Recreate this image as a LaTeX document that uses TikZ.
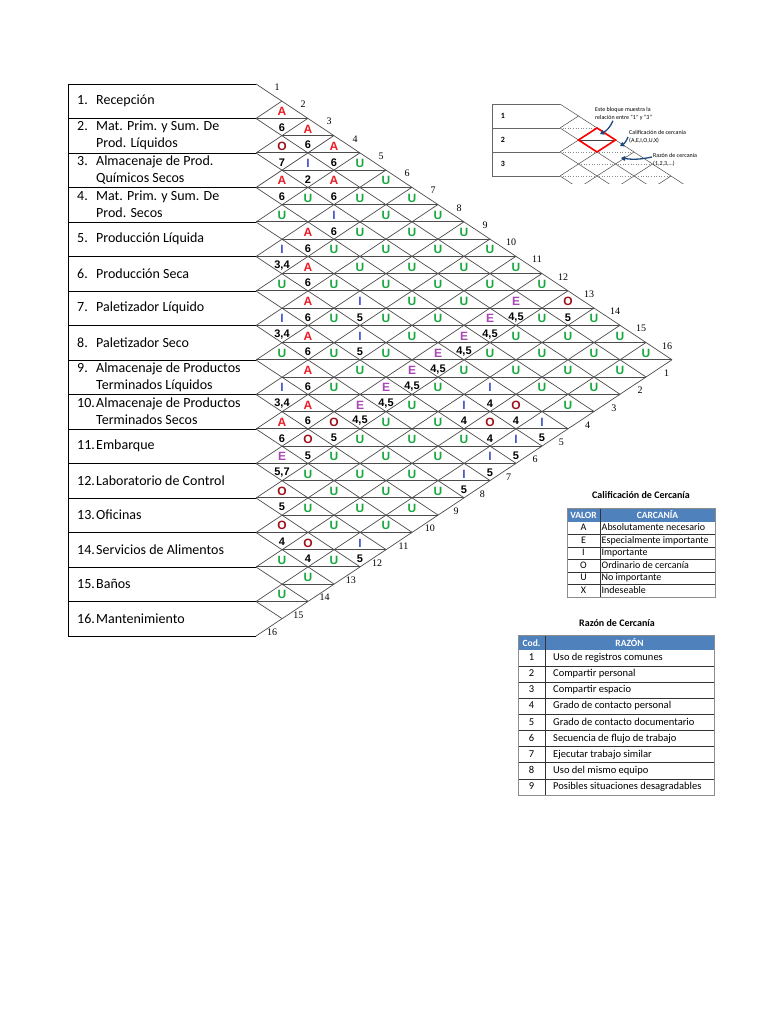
\documentclass[tikz,border=0pt]{standalone}
\usepackage{fontspec}
\setmainfont{Carlito}
\newfontfamily\relfont{Liberation Sans}
\newfontfamily\tickfont{Liberation Serif}
\usetikzlibrary{arrows.meta}
\definecolor{rateA}{RGB}{237,28,36}
\definecolor{rateE}{RGB}{168,72,180}
\definecolor{rateI}{RGB}{72,84,200}
\definecolor{rateO}{RGB}{160,16,24}
\definecolor{rateU}{RGB}{24,168,64}
\definecolor{headblue}{RGB}{79,129,189}
\definecolor{notearrow}{RGB}{31,73,125}
\newcommand{\dnum}[1]{\makebox[19pt][l]{#1}}
\newcommand{\dgap}{\hspace*{19pt}}
\tikzset{
    rowline/.style={black, line width=0.9pt},
    gridline/.style={black!70, line width=0.7pt},
    midline/.style={black!70, line width=0.7pt},
    insetmid/.style={black!45, line width=0.6pt, dotted},
    dept/.style={anchor=west, inner sep=0pt, align=left, font=\fontsize{14}{17}\selectfont},
    ratelet/.style={inner sep=0pt, font=\relfont\bfseries\fontsize{12}{12}\selectfont},
    reasonnum/.style={inner sep=0pt, font=\relfont\bfseries\fontsize{11}{11}\selectfont},
    ticklab/.style={inner sep=0pt, font=\tickfont\fontsize{10}{10}\selectfont},
    insetnum/.style={inner sep=0pt, font=\bfseries\fontsize{8}{8}\selectfont},
    notetext/.style={anchor=west, inner sep=0pt, align=left, font=\fontsize{6}{8}\selectfont},
    notearr/.style={notearrow, line width=1.3pt, -{Triangle[length=4pt,width=5pt]}},
    tabtitle/.style={inner sep=0pt, font=\bfseries\fontsize{10}{10}\selectfont},
    tabhead/.style={inner sep=0pt, text=white, text height=7pt, text depth=0pt,
        font=\bfseries\fontsize{9.5}{9.5}\selectfont},
    tabtext/.style={inner sep=0pt, text height=7pt, text depth=2pt, font=\fontsize{10}{10}\selectfont},
    reasontext/.style={tabtext, font=\fontsize{10.5}{10.5}\selectfont},
    tabrule/.style={black!80, line width=0.6pt},
    tabframe/.style={black!45, line width=0.8pt}
}
\begin{document}
\begin{tikzpicture}[x=1pt, y=-1pt]
  \useasboundingbox (0,0) rectangle (768,1024);
  % department rows
  \draw[rowline] (68,84) -- (68,636);
  \foreach \k in {0,...,16}
    \draw[rowline] (68,{84+34.5*\k}) -- (256,{84+34.5*\k});
  \node[dept] (d1) at (77,101) {\dnum{1.}Recepción};
  \node[dept] (d2) at (77,135.5) {\dnum{2.}Mat. Prim. y Sum. De\\\dgap Prod. Líquidos};
  \node[dept] (d3) at (77,170) {\dnum{3.}Almacenaje de Prod.\\\dgap Químicos Secos};
  \node[dept] (d4) at (77,204.5) {\dnum{4.}Mat. Prim. y Sum. De\\\dgap Prod. Secos};
  \node[dept] (d5) at (77,239) {\dnum{5.}Producción Líquida};
  \node[dept] (d6) at (77,273.5) {\dnum{6.}Producción Seca};
  \node[dept] (d7) at (77,308) {\dnum{7.}Paletizador Líquido};
  \node[dept] (d8) at (77,342.5) {\dnum{8.}Paletizador Seco};
  \node[dept] (d9) at (77,377) {\dnum{9.}Almacenaje de Productos\\\dgap Terminados Líquidos};
  \node[dept] (d10) at (77,411.5) {\dnum{10.}Almacenaje de Productos\\\dgap Terminados Secos};
  \node[dept] (d11) at (77,446) {\dnum{11.}Embarque};
  \node[dept] (d12) at (77,480.5) {\dnum{12.}Laboratorio de Control};
  \node[dept] (d13) at (77,515) {\dnum{13.}Oficinas};
  \node[dept] (d14) at (77,549.5) {\dnum{14.}Servicios de Alimentos};
  \node[dept] (d15) at (77,584) {\dnum{15.}Baños};
  \node[dept] (d16) at (77,618.5) {\dnum{16.}Mantenimiento};
  % diamond grid
  \foreach \k in {1,...,16}
    \draw[gridline] (256,{49.5+34.5*\k}) -- ({698-26*\k},{342.5+17.25*\k});
  \foreach \k in {2,...,17}
    \draw[gridline] (256,{49.5+34.5*\k}) -- ({230+26*\k},{66.5+17.25*\k});
  \foreach \s in {3,...,31}{
    \pgfmathsetmacro\xl{256+26*mod(\s+1,2)}
    \pgfmathsetmacro\xr{282+26*min(\s-2,32-\s)}
    \draw[midline] (\xl,{66.5+17.25*\s}) -- (\xr,{66.5+17.25*\s});
  }
  \foreach \k in {1,...,16}{
    \node[ticklab] (top\k) at ({277+26*(\k-1)},{87+17.25*(\k-1)}) {\k};
    \node[ticklab] (bot\k) at ({272+26.3*(16-\k)},{632-17.25*(16-\k)}) {\k};
  }
  % closeness ratings and reasons
  \foreach \i/\j/\c/\r [count=\n] in {
      1/2/A/6, 1/3/A/6, 1/4/A/6, 1/5/U/{}, 1/6/U/{}, 1/7/U/{}, 1/8/U/{}, 1/9/U/{},
      1/10/U/{}, 1/11/U/{}, 1/12/U/{}, 1/13/O/5, 1/14/U/{}, 1/15/U/{}, 1/16/U/{},
      2/3/O/7, 2/4/I/2, 2/5/A/6, 2/6/U/{}, 2/7/U/{}, 2/8/U/{}, 2/9/U/{}, 2/10/U/{},
      2/11/U/{}, 2/12/E/{4,5}, 2/13/U/{}, 2/14/U/{}, 2/15/U/{}, 2/16/U/{},
      3/4/A/6, 3/5/U/{}, 3/6/I/6, 3/7/U/{}, 3/8/U/{}, 3/9/U/{}, 3/10/U/{}, 3/11/U/{},
      3/12/E/{4,5}, 3/13/U/{}, 3/14/U/{}, 3/15/U/{}, 3/16/U/{},
      4/5/U/{}, 4/6/A/6, 4/7/U/{}, 4/8/U/{}, 4/9/U/{}, 4/10/U/{}, 4/11/U/{},
      4/12/E/{4,5}, 4/13/U/{}, 4/14/U/{}, 4/15/U/{}, 4/16/U/{},
      5/6/I/{3,4}, 5/7/A/6, 5/8/U/{}, 5/9/I/5, 5/10/U/{}, 5/11/U/{}, 5/12/E/{4,5},
      5/13/U/{}, 5/14/I/4, 5/15/O/4, 5/16/I/5,
      6/7/U/{}, 6/8/A/6, 6/9/U/{}, 6/10/I/5, 6/11/U/{}, 6/12/E/{4,5}, 6/13/U/{},
      6/14/I/4, 6/15/O/4, 6/16/I/5,
      7/8/I/{3,4}, 7/9/A/6, 7/10/U/{}, 7/11/U/{}, 7/12/E/{4,5}, 7/13/U/{}, 7/14/U/{},
      7/15/U/{}, 7/16/I/5,
      8/9/U/{}, 8/10/A/6, 8/11/U/{}, 8/12/E/{4,5}, 8/13/U/{}, 8/14/U/{}, 8/15/U/{}, 8/16/I/5,
      9/10/I/{3,4}, 9/11/A/6, 9/12/O/5, 9/13/U/{}, 9/14/U/{}, 9/15/U/{}, 9/16/U/{},
      10/11/A/6, 10/12/O/5, 10/13/U/{}, 10/14/U/{}, 10/15/U/{}, 10/16/U/{},
      11/12/E/{5,7}, 11/13/U/{}, 11/14/U/{}, 11/15/U/{}, 11/16/U/{},
      12/13/O/5, 12/14/U/{}, 12/15/U/{}, 12/16/I/5,
      13/14/O/4, 13/15/O/4, 13/16/U/{},
      14/15/U/{}, 14/16/U/{},
      15/16/U/{}}{
    \node[ratelet, text=rate\c] (rl\n) at ({256+26*(\j-\i)},{60+17.25*(\i+\j)}) {\c};
    \node[reasonnum] (rn\n) at ({256+26*(\j-\i)},{76+17.25*(\i+\j)}) {\r};
  }
  % inset: how to read a block
  \draw[rowline, black!60, line width=0.7pt] (492,104) -- (492,176);
  \foreach \k in {0,...,3}
    \draw[rowline, black!60, line width=0.7pt] (492,{104+24*\k}) -- (560,{104+24*\k});
  \foreach \k in {1,2,3}
    \node[insetnum] (in\k) at (503,{92+24*\k}) {\k};
  \begin{scope}
    \clip (559,100) rectangle (700,184);
    \foreach \k in {1,...,8}{
      \draw[gridline, line width=0.5pt] (560,{80+24*\k}) -- ++(148,96);
      \draw[gridline, line width=0.5pt] (560,{80+24*\k}) -- ({560+18.5*(\k-1)},{92+12*\k});
    }
    \foreach \s in {3,...,12}{
      \pgfmathsetmacro\xl{560+18.5*mod(\s+1,2)}
      \draw[insetmid] (\xl,{92+12*\s}) -- ({560+18.5*(\s-1)},{92+12*\s});
    }
  \end{scope}
  \draw[black!75, line width=0.5pt] (578.5,140) -- (615.5,140);
  \draw[red, line width=1.6pt, line join=miter] (578.5,140) -- (597,128) -- (615.5,140) -- (597,152) -- cycle;
  \coordinate (redtip) at (600,134);
  \coordinate (lettip) at (620,146);
  \coordinate (reasontip) at (621,158);
  \node[notetext] (note1) at (595,114) {Este bloque muestra la\\relación entre “1” y “3”};
  \node[notetext] (note2) at (629,137) {Calificación de cercanía\\(A,E,I,O,U,X)};
  \node[notetext] (note3) at (653,160) {Razón de cercanía\\(1,2,3,…)};
  \draw[notearr] ([xshift=18pt]note1.south west) to[bend left=20] (redtip);
  \draw[notearr] ([xshift=-1pt]note2.west) to[bend left=20] (lettip);
  \draw[notearr] ([xshift=-1pt,yshift=3pt]note3.west) to[bend left=10] (reasontip);
  % closeness values table
  \node[tabtitle] (tit1) at (641,495) {Calificación de Cercanía};
  \fill[headblue] (567,508) rectangle (715,522);
  \node[tabhead] (hv) at (583.5,515) {VALOR};
  \node[tabhead] (hc) at (657.5,515) {CARCANÍA};
  \foreach \v/\t [count=\n] in {A/Absolutamente necesario, E/Especialmente importante,
      I/Importante, O/Ordinario de cercanía, U/No importante, X/Indeseable}{
    \node[tabtext] (v\n) at (583.5,{515.75+12.5*\n}) {\v};
    \node[tabtext, anchor=west] (vt\n) at (601.5,{515.75+12.5*\n}) {\t};
    \draw[tabrule] (567,{522+12.5*\n}) -- (715,{522+12.5*\n});
  }
  \draw[tabrule] (600,508) -- (600,597);
  \draw[tabframe] (567,508) rectangle (715,597);
  % reasons table
  \node[tabtitle] (tit2) at (617,623) {Razón de Cercanía};
  \fill[headblue] (518,635) rectangle (714,650);
  \node[tabhead] (hcod) at (531.5,642.5) {Cod.};
  \node[tabhead] (hraz) at (629.5,642.5) {RAZÓN};
  \foreach \t [count=\n] in {Uso de registros comunes, Compartir personal,
      Compartir espacio, Grado de contacto personal, Grado de contacto documentario,
      Secuencia de flujo de trabajo, Ejecutar trabajo similar, Uso del mismo equipo,
      Posibles situaciones desagradables}{
    \node[reasontext] (cod\n) at (531.5,{642+16.1*\n}) {\n};
    \node[reasontext, anchor=west] (raz\n) at (553,{642+16.1*\n}) {\t};
    \draw[tabrule] (518,{650+16.1*\n}) -- (714,{650+16.1*\n});
  }
  \draw[tabrule, line width=1pt] (545,635) -- (545,795);
  \draw[tabframe] (518,635) rectangle (714,795);
\end{tikzpicture}
\end{document}
